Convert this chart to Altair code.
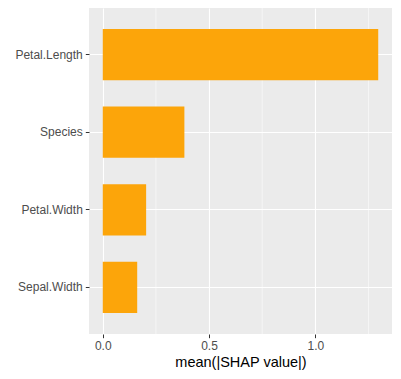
import altair as alt
import pandas as pd

features = ["Petal.Length", "Species", "Petal.Width", "Sepal.Width"]
mean_abs_shap = [1.296, 0.384, 0.204, 0.162]
x_major_ticks = [0.0, 0.5, 1.0]
x_minor_ticks = [0.25, 0.75, 1.25]

df = pd.DataFrame({"feature": features, "value": mean_abs_shap})
minor = pd.DataFrame({"x": x_minor_ticks})

xmax = max(mean_abs_shap)
xdom = [-0.05 * xmax, xmax * 1.05]

xscale = alt.Scale(domain=xdom, nice=False, zero=False)

minor_rules = alt.Chart(minor).mark_rule(color="white", strokeWidth=0.55).encode(
    x=alt.X("x:Q", scale=xscale)
)

bars = alt.Chart(df).mark_bar(color="#fca50a").encode(
    x=alt.X(
        "value:Q",
        scale=xscale,
        title="mean(|SHAP value|)",
        axis=alt.Axis(
            values=x_major_ticks,
            format=".1f",
            grid=True,
            gridColor="white",
            gridWidth=1.1,
            domain=False,
            ticks=True,
            tickColor="#333333",
            tickSize=3.7,
            tickWidth=1,
            labelColor="#4D4D4D",
            labelFont="Liberation Sans",
            labelFontSize=12,
            labelPadding=3,
            titleFont="Liberation Sans",
            titleFontSize=14.5,
            titleFontWeight="normal",
            titleColor="black",
            titlePadding=4,
        ),
    ),
    y=alt.Y(
        "feature:N",
        sort=features,
        scale=alt.Scale(paddingInner=0.34, paddingOuter=0.27),
        title=None,
        axis=alt.Axis(
            grid=True,
            gridColor="white",
            gridWidth=1.1,
            bandPosition=0.5,
            domain=False,
            ticks=True,
            tickColor="#333333",
            tickSize=3.7,
            tickWidth=1,
            labelColor="#4D4D4D",
            labelFont="Liberation Sans",
            labelFontSize=12,
            labelPadding=3,
        ),
    ),
)

chart = (
    alt.layer(minor_rules, bars)
    .properties(
        width=303,
        height=326,
        autosize=alt.AutoSizeParams(type="none"),
        padding={"left": 81, "top": 0, "right": 0, "bottom": 45},
    )
    .configure_view(fill="#EBEBEB", stroke="transparent", strokeWidth=0)
)

chart.save("out.html", embed_options={"renderer": "svg", "actions": False})
